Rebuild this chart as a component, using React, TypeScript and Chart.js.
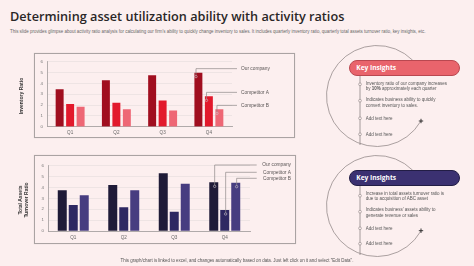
import React, { useEffect, useRef } from "react";
import { Chart, registerables } from "chart.js";
Chart.register(...registerables);

const quarters = ["Q1", "Q2", "Q3", "Q4"];
const seriesNames = ["Our company", "Competitor A", "Competitor B"];
const inventoryOur = [3.45, 4.28, 4.74, 4.99];
const inventoryA = [2.1, 2.22, 2.43, 2.8];
const inventoryB = [1.85, 1.6, 1.5, 1.6];
const turnoverOur = [3.74, 4.23, 5.3, 4.47];
const turnoverA = [2.39, 2.18, 1.78, 1.93];
const turnoverB = [3.28, 3.74, 4.35, 4.44];
const yMin = 0;
const yMax = 6;
const yStep = 1;

const redColors = ["#a00e1f", "#e2192c", "#ee6775"];
const navyColors = ["#1f1b38", "#2e2862", "#473d80"];
const FONT = "'Liberation Sans', Arial, sans-serif";

type Geo = {
  width: number;
  height: number;
  yw: number;
  xh: number;
  top: number;
  right: number;
  catPct: number;
  barPct: number;
  xPad: number;
  leader: {
    mode: "near" | "fixed";
    fixedY?: number[];
    xShift: number;
    lineEndX: number;
    labelX: number;
    align: "left" | "right";
  };
};

function makeLeaderPlugin(cfg: Geo["leader"]) {
  return {
    id: "leaders",
    afterDatasetsDraw(chart: any) {
      const ctx = chart.ctx;
      ctx.save();
      ctx.font = `4.8px ${FONT}`;
      ctx.textBaseline = "middle";
      chart.data.datasets.forEach((ds: any, i: number) => {
        const meta = chart.getDatasetMeta(i);
        const bar: any = meta.data[meta.data.length - 1];
        const x = bar.x + cfg.xShift * bar.width;
        const ly = cfg.mode === "near" ? bar.y - 4 : (cfg.fixedY as number[])[i];
        ctx.strokeStyle = "#8e8888";
        ctx.lineWidth = 0.7;
        ctx.beginPath();
        ctx.moveTo(x, bar.y + 2.8);
        ctx.lineTo(x, ly);
        ctx.lineTo(cfg.lineEndX, ly);
        ctx.stroke();
        ctx.strokeStyle = "#cfc6cc";
        ctx.lineWidth = 0.6;
        ctx.beginPath();
        ctx.arc(x, bar.y + 4, 1.2, 0, Math.PI * 2);
        ctx.stroke();
        ctx.fillStyle = "#5a5555";
        ctx.textAlign = cfg.align;
        ctx.fillText(ds.label, cfg.labelX, ly);
      });
      ctx.restore();
    },
  };
}

function BarChart({ series, colors, geo }: { series: number[][]; colors: string[]; geo: Geo }) {
  const ref = useRef<HTMLCanvasElement | null>(null);
  useEffect(() => {
    if (!ref.current) return;
    const chart = new Chart(ref.current, {
      type: "bar",
      data: {
        labels: quarters,
        datasets: series.map((vals, i) => ({
          label: seriesNames[i],
          data: vals,
          backgroundColor: colors[i],
          borderWidth: 0,
          barPercentage: geo.barPct,
          categoryPercentage: geo.catPct,
        })),
      },
      options: {
        responsive: false,
        animation: false,
        devicePixelRatio: 1,
        layout: { padding: { top: geo.top, right: geo.right, left: 0, bottom: 0 } },
        plugins: { legend: { display: false }, tooltip: { enabled: false } },
        scales: {
          x: {
            grid: { display: false, drawTicks: false },
            border: { color: "#a09a9a", width: 0.8 },
            ticks: { font: { size: 4.6, family: FONT }, color: "#666", padding: geo.xPad },
            afterFit: (s: any) => {
              s.height = geo.xh;
            },
          },
          y: {
            min: yMin,
            max: yMax,
            ticks: { stepSize: yStep, font: { size: 4.4, family: FONT }, color: "#777", padding: 4 },
            grid: { color: "#e4dcdc", lineWidth: 0.6, drawTicks: false },
            border: { color: "#a09a9a", width: 0.8 },
            afterFit: (s: any) => {
              s.width = geo.yw;
            },
          },
        },
      } as any,
      plugins: [makeLeaderPlugin(geo.leader)],
    });
    return () => chart.destroy();
  }, []);
  return (
    <canvas
      ref={ref}
      width={geo.width}
      height={geo.height}
      style={{ display: "block", width: geo.width, height: geo.height }}
    />
  );
}

const topGeo: Geo = {
  width: 261,
  height: 85,
  yw: 13,
  xh: 11.3,
  top: 8.7,
  right: 63,
  catPct: 0.68,
  barPct: 0.76,
  xPad: 3,
  leader: { mode: "near", xShift: -0.3, lineEndX: 203, labelX: 207, align: "left" },
};
const bottomGeo: Geo = {
  width: 262,
  height: 89,
  yw: 14,
  xh: 13,
  top: 10.7,
  right: 46,
  catPct: 0.653,
  barPct: 0.818,
  xPad: 4,
  leader: { mode: "fixed", fixedY: [10, 17.3, 23.3], xShift: 0.1, lineEndX: 222.7, labelX: 257, align: "right" },
};

const small: React.CSSProperties = {
  position: "absolute",
  fontSize: 4.5,
  lineHeight: "5.4px",
  color: "#555",
  whiteSpace: "nowrap",
  fontFamily: FONT,
};

function Line({ y, children }: { y: number; children: React.ReactNode }) {
  return <div style={{ ...small, left: 365.7, top: y - 2.7 }}>{children}</div>;
}

export default function App() {
  useEffect(() => {
    document.body.style.margin = "0";
  }, []);
  const cx = 377;
  const r = 50.5;
  const arcPath = (cyy: number) => {
    const a1 = (-45 * Math.PI) / 180;
    const a2 = (30 * Math.PI) / 180;
    const x1 = cx + r * Math.cos(a1);
    const y1 = cyy + r * Math.sin(a1);
    const x2 = cx + r * Math.cos(a2);
    const y2 = cyy + r * Math.sin(a2);
    return `M ${x1} ${y1} A ${r} ${r} 0 1 0 ${x2} ${y2}`;
  };
  const plus = (px: number, py: number) => (
    <g stroke="#222" strokeWidth={0.9}>
      <line x1={px - 2.2} y1={py} x2={px + 2.2} y2={py} />
      <line x1={px} y1={py - 2.2} x2={px} y2={py + 2.2} />
    </g>
  );
  const markers = (ys: number[]) =>
    ys.map((y, i) => <circle key={i} cx={360} cy={y} r={1.4} fill="#fcefef" stroke="#8e8686" strokeWidth={0.6} />);

  const boxBorder: React.CSSProperties = {
    position: "absolute",
    inset: 0,
    border: "1px solid #aaa3a3",
    boxShadow: "0 0 1px rgba(0,0,0,0.15)",
    pointerEvents: "none",
  };

  return (
    <div
      style={{
        position: "fixed",
        left: 0,
        top: 0,
        width: 474,
        height: 266,
        background: "#fcefef",
        overflow: "hidden",
        fontFamily: FONT,
      }}
    >
      <div
        style={{
          position: "absolute",
          left: 10,
          top: 10.4,
          fontFamily: "'Open Sans', sans-serif",
          fontWeight: 600,
          fontSize: 12.7,
          lineHeight: "13px",
          color: "#2a2626",
          whiteSpace: "nowrap",
        }}
      >
        Determining asset utilization ability with activity ratios
      </div>
      <div style={{ ...small, left: 10, top: 30.2, fontSize: 4.45, lineHeight: "4.5px", color: "#666" }}>
        This slide provides glimpse about activity ratio analysis for calculating our firm's ability to quickly change
        inventory to sales. It includes quarterly inventory ratio, quarterly total assets turnover ratio, key insights,
        etc.
      </div>

      {/* top chart */}
      <div style={{ position: "absolute", left: 34, top: 53, width: 261, height: 85 }}>
        <BarChart series={[inventoryOur, inventoryA, inventoryB]} colors={redColors} geo={topGeo} />
        <div style={boxBorder} />
      </div>
      <div
        style={{
          position: "absolute",
          left: 20.7,
          top: 96,
          transform: "translate(-50%,-50%) rotate(-90deg)",
          fontSize: 5,
          fontWeight: 700,
          color: "#333",
          whiteSpace: "nowrap",
        }}
      >
        Inventory Ratio
      </div>

      {/* bottom chart */}
      <div style={{ position: "absolute", left: 34, top: 155, width: 262, height: 89 }}>
        <BarChart series={[turnoverOur, turnoverA, turnoverB]} colors={navyColors} geo={bottomGeo} />
        <div style={boxBorder} />
      </div>
      <div
        style={{
          position: "absolute",
          left: 23.5,
          top: 199.5,
          transform: "translate(-50%,-50%) rotate(-90deg)",
          fontSize: 5,
          lineHeight: "5.6px",
          fontWeight: 700,
          color: "#333",
          whiteSpace: "nowrap",
          textAlign: "center",
        }}
      >
        Total Assets
        <br />
        Turnover Ratio
      </div>

      {/* right decorations */}
      <svg width={474} height={266} style={{ position: "absolute", left: 0, top: 0 }}>
        <path d={arcPath(96)} fill="none" stroke="#958c8c" strokeWidth={0.8} />
        <path d={arcPath(206)} fill="none" stroke="#958c8c" strokeWidth={0.8} />
        <line x1={360} y1={76} x2={360} y2={145} stroke="#8e8686" strokeWidth={0.8} />
        <line x1={360} y1={186} x2={360} y2={255} stroke="#8e8686" strokeWidth={0.8} />
        {markers([84.3, 100.7, 118.3, 134.3])}
        {markers([195.7, 211.7, 228.3, 243.7])}
        {plus(421, 121)}
        {plus(421, 230.7)}
      </svg>
      <div
        style={{
          position: "absolute",
          left: 349.3,
          top: 60,
          width: 110.7,
          height: 16,
          boxSizing: "border-box",
          borderRadius: 8,
          background: "#e9646c",
          border: "0.8px solid #b94850",
          color: "#fff",
          fontWeight: 700,
          fontSize: 6.6,
          lineHeight: "14.4px",
          paddingLeft: 6,
          fontFamily: "'Open Sans', sans-serif",
        }}
      >
        Key Insights
      </div>
      <div
        style={{
          position: "absolute",
          left: 349.3,
          top: 170,
          width: 110.7,
          height: 15.7,
          boxSizing: "border-box",
          borderRadius: 8,
          background: "#3b3171",
          border: "0.8px solid #221d45",
          color: "#fff",
          fontWeight: 700,
          fontSize: 6.6,
          lineHeight: "14.1px",
          paddingLeft: 6,
          fontFamily: "'Open Sans', sans-serif",
        }}
      >
        Key Insights
      </div>

      <Line y={83.3}>Inventory ratio of our company increases</Line>
      <Line y={89}>
        by <b>10%</b> approximately each quarter
      </Line>
      <Line y={100}>Indicates business ability to quickly</Line>
      <Line y={105.3}>convert inventory to sales.</Line>
      <Line y={118.3}>Add text here</Line>
      <Line y={134.3}>Add text here</Line>

      <Line y={193.3}>Increase in total assets turnover ratio is</Line>
      <Line y={199}>due to acquisition of ABC asset</Line>
      <Line y={210}>Indicates business' assets ability to</Line>
      <Line y={215.3}>generate revenue or sales</Line>
      <Line y={228.3}>Add text here</Line>
      <Line y={244}>Add text here</Line>

      <div
        style={{
          ...small,
          left: 0,
          width: 474,
          textAlign: "center",
          top: 258.8,
          fontSize: 4.45,
          lineHeight: "4.5px",
          color: "#555",
        }}
      >
        This graph/chart is linked to excel, and changes automatically based on data. Just left click on it and select
        "Edit Data".
      </div>
    </div>
  );
}
